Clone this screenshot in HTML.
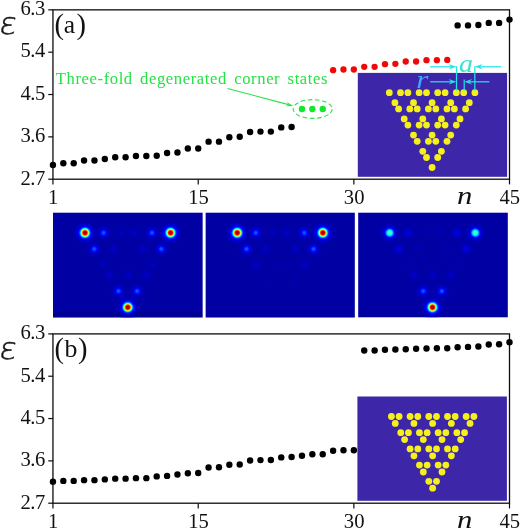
<!DOCTYPE html>
<html lang="en"><head><meta charset="utf-8"><title>Corner states spectrum</title>
<style>
html,body{margin:0;padding:0;background:#fff;}
body{width:520px;height:530px;overflow:hidden;font-family:"Liberation Serif", "DejaVu Serif", serif;}
svg{display:block;}
</style></head><body>
<svg width="520" height="530" viewBox="0 0 520 530" font-family='"Liberation Serif", "DejaVu Serif", serif' fill="#111"><defs><radialGradient id="g016"><stop offset="0.0000" stop-color="#0000af" stop-opacity="1.000"/><stop offset="0.0333" stop-color="#0000af" stop-opacity="1.000"/><stop offset="0.0667" stop-color="#0000ae" stop-opacity="1.000"/><stop offset="0.1000" stop-color="#0000ad" stop-opacity="1.000"/><stop offset="0.1333" stop-color="#0000ac" stop-opacity="1.000"/><stop offset="0.1667" stop-color="#0000ab" stop-opacity="1.000"/><stop offset="0.2000" stop-color="#0000aa" stop-opacity="1.000"/><stop offset="0.2333" stop-color="#0000a9" stop-opacity="1.000"/><stop offset="0.2667" stop-color="#0000a8" stop-opacity="1.000"/><stop offset="0.3000" stop-color="#0000a7" stop-opacity="1.000"/><stop offset="0.3333" stop-color="#0000a6" stop-opacity="1.000"/><stop offset="0.3667" stop-color="#0000a5" stop-opacity="1.000"/><stop offset="0.4000" stop-color="#0000a5" stop-opacity="1.000"/><stop offset="0.4333" stop-color="#0000a5" stop-opacity="1.000"/><stop offset="0.4667" stop-color="#0000a4" stop-opacity="1.000"/><stop offset="0.5000" stop-color="#0000a4" stop-opacity="1.000"/><stop offset="0.5333" stop-color="#0000a4" stop-opacity="1.000"/><stop offset="0.5667" stop-color="#0000a4" stop-opacity="0.963"/><stop offset="0.6000" stop-color="#0000a4" stop-opacity="0.889"/><stop offset="0.6333" stop-color="#0000a4" stop-opacity="0.815"/><stop offset="0.6667" stop-color="#0000a3" stop-opacity="0.741"/><stop offset="0.7000" stop-color="#0000a3" stop-opacity="0.667"/><stop offset="0.7333" stop-color="#0000a3" stop-opacity="0.593"/><stop offset="0.7667" stop-color="#0000a3" stop-opacity="0.519"/><stop offset="0.8000" stop-color="#0000a3" stop-opacity="0.444"/><stop offset="0.8333" stop-color="#0000a3" stop-opacity="0.370"/><stop offset="0.8667" stop-color="#0000a3" stop-opacity="0.296"/><stop offset="0.9000" stop-color="#0000a3" stop-opacity="0.222"/><stop offset="0.9333" stop-color="#0000a3" stop-opacity="0.148"/><stop offset="0.9667" stop-color="#0000a3" stop-opacity="0.074"/><stop offset="1.0000" stop-color="#0000a3" stop-opacity="0.000"/></radialGradient><radialGradient id="g050"><stop offset="0.0000" stop-color="#0000c8" stop-opacity="1.000"/><stop offset="0.0333" stop-color="#0000c7" stop-opacity="1.000"/><stop offset="0.0667" stop-color="#0000c6" stop-opacity="1.000"/><stop offset="0.1000" stop-color="#0000c3" stop-opacity="1.000"/><stop offset="0.1333" stop-color="#0000c0" stop-opacity="1.000"/><stop offset="0.1667" stop-color="#0000bd" stop-opacity="1.000"/><stop offset="0.2000" stop-color="#0000b9" stop-opacity="1.000"/><stop offset="0.2333" stop-color="#0000b5" stop-opacity="1.000"/><stop offset="0.2667" stop-color="#0000b2" stop-opacity="1.000"/><stop offset="0.3000" stop-color="#0000af" stop-opacity="1.000"/><stop offset="0.3333" stop-color="#0000ad" stop-opacity="1.000"/><stop offset="0.3667" stop-color="#0000ab" stop-opacity="1.000"/><stop offset="0.4000" stop-color="#0000a9" stop-opacity="1.000"/><stop offset="0.4333" stop-color="#0000a8" stop-opacity="1.000"/><stop offset="0.4667" stop-color="#0000a7" stop-opacity="1.000"/><stop offset="0.5000" stop-color="#0000a6" stop-opacity="1.000"/><stop offset="0.5333" stop-color="#0000a6" stop-opacity="1.000"/><stop offset="0.5667" stop-color="#0000a5" stop-opacity="0.963"/><stop offset="0.6000" stop-color="#0000a5" stop-opacity="0.889"/><stop offset="0.6333" stop-color="#0000a5" stop-opacity="0.815"/><stop offset="0.6667" stop-color="#0000a4" stop-opacity="0.741"/><stop offset="0.7000" stop-color="#0000a4" stop-opacity="0.667"/><stop offset="0.7333" stop-color="#0000a4" stop-opacity="0.593"/><stop offset="0.7667" stop-color="#0000a4" stop-opacity="0.519"/><stop offset="0.8000" stop-color="#0000a4" stop-opacity="0.444"/><stop offset="0.8333" stop-color="#0000a4" stop-opacity="0.370"/><stop offset="0.8667" stop-color="#0000a4" stop-opacity="0.296"/><stop offset="0.9000" stop-color="#0000a3" stop-opacity="0.222"/><stop offset="0.9333" stop-color="#0000a3" stop-opacity="0.148"/><stop offset="0.9667" stop-color="#0000a3" stop-opacity="0.074"/><stop offset="1.0000" stop-color="#0000a3" stop-opacity="0.000"/></radialGradient><radialGradient id="g220"><stop offset="0.0000" stop-color="#0061ff" stop-opacity="1.000"/><stop offset="0.0333" stop-color="#005eff" stop-opacity="1.000"/><stop offset="0.0667" stop-color="#0054ff" stop-opacity="1.000"/><stop offset="0.1000" stop-color="#0045ff" stop-opacity="1.000"/><stop offset="0.1333" stop-color="#0032ff" stop-opacity="1.000"/><stop offset="0.1667" stop-color="#001cff" stop-opacity="1.000"/><stop offset="0.2000" stop-color="#0006ff" stop-opacity="1.000"/><stop offset="0.2333" stop-color="#0000f3" stop-opacity="1.000"/><stop offset="0.2667" stop-color="#0000e5" stop-opacity="1.000"/><stop offset="0.3000" stop-color="#0000d8" stop-opacity="1.000"/><stop offset="0.3333" stop-color="#0000cd" stop-opacity="1.000"/><stop offset="0.3667" stop-color="#0000c5" stop-opacity="1.000"/><stop offset="0.4000" stop-color="#0000be" stop-opacity="1.000"/><stop offset="0.4333" stop-color="#0000b8" stop-opacity="1.000"/><stop offset="0.4667" stop-color="#0000b4" stop-opacity="1.000"/><stop offset="0.5000" stop-color="#0000b1" stop-opacity="1.000"/><stop offset="0.5333" stop-color="#0000af" stop-opacity="1.000"/><stop offset="0.5667" stop-color="#0000ad" stop-opacity="0.963"/><stop offset="0.6000" stop-color="#0000ab" stop-opacity="0.889"/><stop offset="0.6333" stop-color="#0000aa" stop-opacity="0.815"/><stop offset="0.6667" stop-color="#0000a9" stop-opacity="0.741"/><stop offset="0.7000" stop-color="#0000a8" stop-opacity="0.667"/><stop offset="0.7333" stop-color="#0000a8" stop-opacity="0.593"/><stop offset="0.7667" stop-color="#0000a7" stop-opacity="0.519"/><stop offset="0.8000" stop-color="#0000a6" stop-opacity="0.444"/><stop offset="0.8333" stop-color="#0000a6" stop-opacity="0.370"/><stop offset="0.8667" stop-color="#0000a5" stop-opacity="0.296"/><stop offset="0.9000" stop-color="#0000a5" stop-opacity="0.222"/><stop offset="0.9333" stop-color="#0000a5" stop-opacity="0.148"/><stop offset="0.9667" stop-color="#0000a4" stop-opacity="0.074"/><stop offset="1.0000" stop-color="#0000a4" stop-opacity="0.000"/></radialGradient><radialGradient id="g1000"><stop offset="0.0000" stop-color="#9e0000" stop-opacity="1.000"/><stop offset="0.0333" stop-color="#9f0000" stop-opacity="1.000"/><stop offset="0.0667" stop-color="#a60000" stop-opacity="1.000"/><stop offset="0.1000" stop-color="#b90000" stop-opacity="1.000"/><stop offset="0.1333" stop-color="#dd0000" stop-opacity="1.000"/><stop offset="0.1667" stop-color="#ff1600" stop-opacity="1.000"/><stop offset="0.2000" stop-color="#ff6300" stop-opacity="1.000"/><stop offset="0.2333" stop-color="#ffc100" stop-opacity="1.000"/><stop offset="0.2667" stop-color="#d3ff2c" stop-opacity="1.000"/><stop offset="0.3000" stop-color="#67ff98" stop-opacity="1.000"/><stop offset="0.3333" stop-color="#02fffd" stop-opacity="1.000"/><stop offset="0.3667" stop-color="#00abff" stop-opacity="1.000"/><stop offset="0.4000" stop-color="#0066ff" stop-opacity="1.000"/><stop offset="0.4333" stop-color="#0034ff" stop-opacity="1.000"/><stop offset="0.4667" stop-color="#0012ff" stop-opacity="1.000"/><stop offset="0.5000" stop-color="#0000fb" stop-opacity="1.000"/><stop offset="0.5333" stop-color="#0000ef" stop-opacity="1.000"/><stop offset="0.5667" stop-color="#0000e6" stop-opacity="0.963"/><stop offset="0.6000" stop-color="#0000df" stop-opacity="0.889"/><stop offset="0.6333" stop-color="#0000d8" stop-opacity="0.815"/><stop offset="0.6667" stop-color="#0000d2" stop-opacity="0.741"/><stop offset="0.7000" stop-color="#0000cc" stop-opacity="0.667"/><stop offset="0.7333" stop-color="#0000c7" stop-opacity="0.593"/><stop offset="0.7667" stop-color="#0000c2" stop-opacity="0.519"/><stop offset="0.8000" stop-color="#0000be" stop-opacity="0.444"/><stop offset="0.8333" stop-color="#0000ba" stop-opacity="0.370"/><stop offset="0.8667" stop-color="#0000b7" stop-opacity="0.296"/><stop offset="0.9000" stop-color="#0000b4" stop-opacity="0.222"/><stop offset="0.9333" stop-color="#0000b1" stop-opacity="0.148"/><stop offset="0.9667" stop-color="#0000af" stop-opacity="0.074"/><stop offset="1.0000" stop-color="#0000ad" stop-opacity="0.000"/></radialGradient><radialGradient id="g022"><stop offset="0.0000" stop-color="#0000b3" stop-opacity="1.000"/><stop offset="0.0333" stop-color="#0000b3" stop-opacity="1.000"/><stop offset="0.0667" stop-color="#0000b2" stop-opacity="1.000"/><stop offset="0.1000" stop-color="#0000b1" stop-opacity="1.000"/><stop offset="0.1333" stop-color="#0000b0" stop-opacity="1.000"/><stop offset="0.1667" stop-color="#0000ae" stop-opacity="1.000"/><stop offset="0.2000" stop-color="#0000ad" stop-opacity="1.000"/><stop offset="0.2333" stop-color="#0000ab" stop-opacity="1.000"/><stop offset="0.2667" stop-color="#0000aa" stop-opacity="1.000"/><stop offset="0.3000" stop-color="#0000a8" stop-opacity="1.000"/><stop offset="0.3333" stop-color="#0000a7" stop-opacity="1.000"/><stop offset="0.3667" stop-color="#0000a6" stop-opacity="1.000"/><stop offset="0.4000" stop-color="#0000a6" stop-opacity="1.000"/><stop offset="0.4333" stop-color="#0000a5" stop-opacity="1.000"/><stop offset="0.4667" stop-color="#0000a5" stop-opacity="1.000"/><stop offset="0.5000" stop-color="#0000a4" stop-opacity="1.000"/><stop offset="0.5333" stop-color="#0000a4" stop-opacity="1.000"/><stop offset="0.5667" stop-color="#0000a4" stop-opacity="0.963"/><stop offset="0.6000" stop-color="#0000a4" stop-opacity="0.889"/><stop offset="0.6333" stop-color="#0000a4" stop-opacity="0.815"/><stop offset="0.6667" stop-color="#0000a4" stop-opacity="0.741"/><stop offset="0.7000" stop-color="#0000a4" stop-opacity="0.667"/><stop offset="0.7333" stop-color="#0000a3" stop-opacity="0.593"/><stop offset="0.7667" stop-color="#0000a3" stop-opacity="0.519"/><stop offset="0.8000" stop-color="#0000a3" stop-opacity="0.444"/><stop offset="0.8333" stop-color="#0000a3" stop-opacity="0.370"/><stop offset="0.8667" stop-color="#0000a3" stop-opacity="0.296"/><stop offset="0.9000" stop-color="#0000a3" stop-opacity="0.222"/><stop offset="0.9333" stop-color="#0000a3" stop-opacity="0.148"/><stop offset="0.9667" stop-color="#0000a3" stop-opacity="0.074"/><stop offset="1.0000" stop-color="#0000a3" stop-opacity="0.000"/></radialGradient><radialGradient id="g097"><stop offset="0.0000" stop-color="#0000ea" stop-opacity="1.000"/><stop offset="0.0333" stop-color="#0000e9" stop-opacity="1.000"/><stop offset="0.0667" stop-color="#0000e6" stop-opacity="1.000"/><stop offset="0.1000" stop-color="#0000e1" stop-opacity="1.000"/><stop offset="0.1333" stop-color="#0000db" stop-opacity="1.000"/><stop offset="0.1667" stop-color="#0000d4" stop-opacity="1.000"/><stop offset="0.2000" stop-color="#0000cd" stop-opacity="1.000"/><stop offset="0.2333" stop-color="#0000c6" stop-opacity="1.000"/><stop offset="0.2667" stop-color="#0000c0" stop-opacity="1.000"/><stop offset="0.3000" stop-color="#0000ba" stop-opacity="1.000"/><stop offset="0.3333" stop-color="#0000b6" stop-opacity="1.000"/><stop offset="0.3667" stop-color="#0000b2" stop-opacity="1.000"/><stop offset="0.4000" stop-color="#0000af" stop-opacity="1.000"/><stop offset="0.4333" stop-color="#0000ac" stop-opacity="1.000"/><stop offset="0.4667" stop-color="#0000ab" stop-opacity="1.000"/><stop offset="0.5000" stop-color="#0000a9" stop-opacity="1.000"/><stop offset="0.5333" stop-color="#0000a8" stop-opacity="1.000"/><stop offset="0.5667" stop-color="#0000a7" stop-opacity="0.963"/><stop offset="0.6000" stop-color="#0000a7" stop-opacity="0.889"/><stop offset="0.6333" stop-color="#0000a6" stop-opacity="0.815"/><stop offset="0.6667" stop-color="#0000a6" stop-opacity="0.741"/><stop offset="0.7000" stop-color="#0000a5" stop-opacity="0.667"/><stop offset="0.7333" stop-color="#0000a5" stop-opacity="0.593"/><stop offset="0.7667" stop-color="#0000a5" stop-opacity="0.519"/><stop offset="0.8000" stop-color="#0000a4" stop-opacity="0.444"/><stop offset="0.8333" stop-color="#0000a4" stop-opacity="0.370"/><stop offset="0.8667" stop-color="#0000a4" stop-opacity="0.296"/><stop offset="0.9000" stop-color="#0000a4" stop-opacity="0.222"/><stop offset="0.9333" stop-color="#0000a4" stop-opacity="0.148"/><stop offset="0.9667" stop-color="#0000a4" stop-opacity="0.074"/><stop offset="1.0000" stop-color="#0000a3" stop-opacity="0.000"/></radialGradient><radialGradient id="g440"><stop offset="0.0000" stop-color="#42ffbd" stop-opacity="1.000"/><stop offset="0.0333" stop-color="#42ffbd" stop-opacity="1.000"/><stop offset="0.0667" stop-color="#3fffc0" stop-opacity="1.000"/><stop offset="0.1000" stop-color="#36ffc9" stop-opacity="1.000"/><stop offset="0.1333" stop-color="#26ffd9" stop-opacity="1.000"/><stop offset="0.1667" stop-color="#0cfff3" stop-opacity="1.000"/><stop offset="0.2000" stop-color="#00e8ff" stop-opacity="1.000"/><stop offset="0.2333" stop-color="#00bdff" stop-opacity="1.000"/><stop offset="0.2667" stop-color="#008dff" stop-opacity="1.000"/><stop offset="0.3000" stop-color="#005bff" stop-opacity="1.000"/><stop offset="0.3333" stop-color="#002dff" stop-opacity="1.000"/><stop offset="0.3667" stop-color="#0006ff" stop-opacity="1.000"/><stop offset="0.4000" stop-color="#0000ed" stop-opacity="1.000"/><stop offset="0.4333" stop-color="#0000dd" stop-opacity="1.000"/><stop offset="0.4667" stop-color="#0000d1" stop-opacity="1.000"/><stop offset="0.5000" stop-color="#0000ca" stop-opacity="1.000"/><stop offset="0.5333" stop-color="#0000c4" stop-opacity="1.000"/><stop offset="0.5667" stop-color="#0000c1" stop-opacity="0.963"/><stop offset="0.6000" stop-color="#0000bd" stop-opacity="0.889"/><stop offset="0.6333" stop-color="#0000ba" stop-opacity="0.815"/><stop offset="0.6667" stop-color="#0000b8" stop-opacity="0.741"/><stop offset="0.7000" stop-color="#0000b5" stop-opacity="0.667"/><stop offset="0.7333" stop-color="#0000b3" stop-opacity="0.593"/><stop offset="0.7667" stop-color="#0000b1" stop-opacity="0.519"/><stop offset="0.8000" stop-color="#0000af" stop-opacity="0.444"/><stop offset="0.8333" stop-color="#0000ad" stop-opacity="0.370"/><stop offset="0.8667" stop-color="#0000ac" stop-opacity="0.296"/><stop offset="0.9000" stop-color="#0000aa" stop-opacity="0.222"/><stop offset="0.9333" stop-color="#0000a9" stop-opacity="0.148"/><stop offset="0.9667" stop-color="#0000a8" stop-opacity="0.074"/><stop offset="1.0000" stop-color="#0000a7" stop-opacity="0.000"/></radialGradient></defs>
<rect x="52.95" y="9.85" width="456.55" height="169.35" fill="none" stroke="#0c0c0c" stroke-width="1.3"/>
<line x1="48.25" y1="9.85" x2="52.95" y2="9.85" stroke="#0c0c0c" stroke-width="1.2"/>
<text x="45.20" y="15.15" font-size="20.6" text-anchor="end" textLength="24.8" lengthAdjust="spacing">6.3</text>
<line x1="48.25" y1="52.19" x2="52.95" y2="52.19" stroke="#0c0c0c" stroke-width="1.2"/>
<text x="45.20" y="57.49" font-size="20.6" text-anchor="end" textLength="24.8" lengthAdjust="spacing">5.4</text>
<line x1="48.25" y1="94.52" x2="52.95" y2="94.52" stroke="#0c0c0c" stroke-width="1.2"/>
<text x="45.20" y="99.82" font-size="20.6" text-anchor="end" textLength="24.8" lengthAdjust="spacing">4.5</text>
<line x1="48.25" y1="136.86" x2="52.95" y2="136.86" stroke="#0c0c0c" stroke-width="1.2"/>
<text x="45.20" y="142.16" font-size="20.6" text-anchor="end" textLength="24.8" lengthAdjust="spacing">3.6</text>
<line x1="48.25" y1="179.20" x2="52.95" y2="179.20" stroke="#0c0c0c" stroke-width="1.2"/>
<text x="45.20" y="184.50" font-size="20.6" text-anchor="end" textLength="24.8" lengthAdjust="spacing">2.7</text>
<line x1="52.95" y1="179.20" x2="52.95" y2="184.40" stroke="#0c0c0c" stroke-width="1.2"/>
<text x="53.25" y="204.30" font-size="20.6" text-anchor="middle">1</text>
<line x1="198.22" y1="179.20" x2="198.22" y2="184.40" stroke="#0c0c0c" stroke-width="1.2"/>
<text x="198.52" y="204.30" font-size="20.6" text-anchor="middle">15</text>
<line x1="353.86" y1="179.20" x2="353.86" y2="184.40" stroke="#0c0c0c" stroke-width="1.2"/>
<text x="354.16" y="204.30" font-size="20.6" text-anchor="middle">30</text>
<line x1="509.50" y1="179.20" x2="509.50" y2="184.40" stroke="#0c0c0c" stroke-width="1.2"/>
<text x="509.80" y="204.30" font-size="20.6" text-anchor="middle">45</text>
<text transform="translate(464.60,204.10) scale(1.27,1)" font-size="24.2" font-style="italic" text-anchor="middle">n</text>
<text transform="translate(-1.90,34.45) skewX(-8) scale(1.08,1)" font-size="30.4" font-family='"DejaVu Sans Light", "DejaVu Sans", "Liberation Sans", sans-serif' font-weight="200" fill="#151515" stroke="#151515" stroke-width="0.45">ε</text>
<rect x="52.95" y="333.90" width="456.55" height="169.30" fill="none" stroke="#0c0c0c" stroke-width="1.3"/>
<line x1="48.25" y1="333.90" x2="52.95" y2="333.90" stroke="#0c0c0c" stroke-width="1.2"/>
<text x="45.20" y="339.20" font-size="20.6" text-anchor="end" textLength="24.8" lengthAdjust="spacing">6.3</text>
<line x1="48.25" y1="376.22" x2="52.95" y2="376.22" stroke="#0c0c0c" stroke-width="1.2"/>
<text x="45.20" y="381.52" font-size="20.6" text-anchor="end" textLength="24.8" lengthAdjust="spacing">5.4</text>
<line x1="48.25" y1="418.55" x2="52.95" y2="418.55" stroke="#0c0c0c" stroke-width="1.2"/>
<text x="45.20" y="423.85" font-size="20.6" text-anchor="end" textLength="24.8" lengthAdjust="spacing">4.5</text>
<line x1="48.25" y1="460.88" x2="52.95" y2="460.88" stroke="#0c0c0c" stroke-width="1.2"/>
<text x="45.20" y="466.18" font-size="20.6" text-anchor="end" textLength="24.8" lengthAdjust="spacing">3.6</text>
<line x1="48.25" y1="503.20" x2="52.95" y2="503.20" stroke="#0c0c0c" stroke-width="1.2"/>
<text x="45.20" y="508.50" font-size="20.6" text-anchor="end" textLength="24.8" lengthAdjust="spacing">2.7</text>
<line x1="52.95" y1="503.20" x2="52.95" y2="508.40" stroke="#0c0c0c" stroke-width="1.2"/>
<text x="53.25" y="528.30" font-size="20.6" text-anchor="middle">1</text>
<line x1="198.22" y1="503.20" x2="198.22" y2="508.40" stroke="#0c0c0c" stroke-width="1.2"/>
<text x="198.52" y="528.30" font-size="20.6" text-anchor="middle">15</text>
<line x1="353.86" y1="503.20" x2="353.86" y2="508.40" stroke="#0c0c0c" stroke-width="1.2"/>
<text x="354.16" y="528.30" font-size="20.6" text-anchor="middle">30</text>
<line x1="509.50" y1="503.20" x2="509.50" y2="508.40" stroke="#0c0c0c" stroke-width="1.2"/>
<text x="509.80" y="528.30" font-size="20.6" text-anchor="middle">45</text>
<text transform="translate(464.60,528.10) scale(1.27,1)" font-size="24.2" font-style="italic" text-anchor="middle">n</text>
<text transform="translate(-1.90,358.50) skewX(-8) scale(1.08,1)" font-size="30.4" font-family='"DejaVu Sans Light", "DejaVu Sans", "Liberation Sans", sans-serif' font-weight="200" fill="#151515" stroke="#151515" stroke-width="0.45">ε</text>
<text y="32.6" font-size="25.6"><tspan x="54.4" dy="0.9" font-size="28.5">(</tspan><tspan x="63.7" dy="-0.9">a</tspan><tspan x="76.6" dy="0.9" font-size="28.5">)</tspan></text>
<text y="357.0" font-size="25.8"><tspan x="54.4" dy="0.9" font-size="28.5">(</tspan><tspan x="64.4" dy="-0.9">b</tspan><tspan x="78.1" dy="0.9" font-size="28.5">)</tspan></text>
<rect x="357.80" y="72.90" width="149.30" height="103.90" fill="#3e26a8"/>
<circle cx="389.30" cy="92.70" r="3.40" fill="#f5f01c"/>
<circle cx="400.50" cy="92.70" r="3.40" fill="#f5f01c"/>
<circle cx="394.90" cy="102.70" r="3.40" fill="#f5f01c"/>
<circle cx="407.90" cy="92.70" r="3.40" fill="#f5f01c"/>
<circle cx="419.10" cy="92.70" r="3.40" fill="#f5f01c"/>
<circle cx="413.50" cy="102.70" r="3.40" fill="#f5f01c"/>
<circle cx="426.50" cy="92.70" r="3.40" fill="#f5f01c"/>
<circle cx="437.70" cy="92.70" r="3.40" fill="#f5f01c"/>
<circle cx="432.10" cy="102.70" r="3.40" fill="#f5f01c"/>
<circle cx="445.10" cy="92.70" r="3.40" fill="#f5f01c"/>
<circle cx="456.30" cy="92.70" r="3.40" fill="#f5f01c"/>
<circle cx="450.70" cy="102.70" r="3.40" fill="#f5f01c"/>
<circle cx="463.70" cy="92.70" r="3.40" fill="#f5f01c"/>
<circle cx="474.90" cy="92.70" r="3.40" fill="#f5f01c"/>
<circle cx="469.30" cy="102.70" r="3.40" fill="#f5f01c"/>
<circle cx="398.60" cy="108.90" r="3.40" fill="#f5f01c"/>
<circle cx="409.80" cy="108.90" r="3.40" fill="#f5f01c"/>
<circle cx="404.20" cy="118.90" r="3.40" fill="#f5f01c"/>
<circle cx="417.20" cy="108.90" r="3.40" fill="#f5f01c"/>
<circle cx="428.40" cy="108.90" r="3.40" fill="#f5f01c"/>
<circle cx="422.80" cy="118.90" r="3.40" fill="#f5f01c"/>
<circle cx="435.80" cy="108.90" r="3.40" fill="#f5f01c"/>
<circle cx="447.00" cy="108.90" r="3.40" fill="#f5f01c"/>
<circle cx="441.40" cy="118.90" r="3.40" fill="#f5f01c"/>
<circle cx="454.40" cy="108.90" r="3.40" fill="#f5f01c"/>
<circle cx="465.60" cy="108.90" r="3.40" fill="#f5f01c"/>
<circle cx="460.00" cy="118.90" r="3.40" fill="#f5f01c"/>
<circle cx="407.90" cy="125.10" r="3.40" fill="#f5f01c"/>
<circle cx="419.10" cy="125.10" r="3.40" fill="#f5f01c"/>
<circle cx="413.50" cy="135.10" r="3.40" fill="#f5f01c"/>
<circle cx="426.50" cy="125.10" r="3.40" fill="#f5f01c"/>
<circle cx="437.70" cy="125.10" r="3.40" fill="#f5f01c"/>
<circle cx="432.10" cy="135.10" r="3.40" fill="#f5f01c"/>
<circle cx="445.10" cy="125.10" r="3.40" fill="#f5f01c"/>
<circle cx="456.30" cy="125.10" r="3.40" fill="#f5f01c"/>
<circle cx="450.70" cy="135.10" r="3.40" fill="#f5f01c"/>
<circle cx="417.20" cy="141.30" r="3.40" fill="#f5f01c"/>
<circle cx="428.40" cy="141.30" r="3.40" fill="#f5f01c"/>
<circle cx="422.80" cy="151.30" r="3.40" fill="#f5f01c"/>
<circle cx="435.80" cy="141.30" r="3.40" fill="#f5f01c"/>
<circle cx="447.00" cy="141.30" r="3.40" fill="#f5f01c"/>
<circle cx="441.40" cy="151.30" r="3.40" fill="#f5f01c"/>
<circle cx="426.50" cy="157.50" r="3.40" fill="#f5f01c"/>
<circle cx="437.70" cy="157.50" r="3.40" fill="#f5f01c"/>
<circle cx="432.10" cy="167.50" r="3.40" fill="#f5f01c"/>
<rect x="357.40" y="396.50" width="149.50" height="104.30" fill="#3e26a8"/>
<circle cx="391.40" cy="416.50" r="3.40" fill="#f5f01c"/>
<circle cx="399.10" cy="416.50" r="3.40" fill="#f5f01c"/>
<circle cx="395.25" cy="423.40" r="3.40" fill="#f5f01c"/>
<circle cx="410.10" cy="416.50" r="3.40" fill="#f5f01c"/>
<circle cx="417.80" cy="416.50" r="3.40" fill="#f5f01c"/>
<circle cx="413.95" cy="423.40" r="3.40" fill="#f5f01c"/>
<circle cx="428.80" cy="416.50" r="3.40" fill="#f5f01c"/>
<circle cx="436.50" cy="416.50" r="3.40" fill="#f5f01c"/>
<circle cx="432.65" cy="423.40" r="3.40" fill="#f5f01c"/>
<circle cx="447.50" cy="416.50" r="3.40" fill="#f5f01c"/>
<circle cx="455.20" cy="416.50" r="3.40" fill="#f5f01c"/>
<circle cx="451.35" cy="423.40" r="3.40" fill="#f5f01c"/>
<circle cx="466.20" cy="416.50" r="3.40" fill="#f5f01c"/>
<circle cx="473.90" cy="416.50" r="3.40" fill="#f5f01c"/>
<circle cx="470.05" cy="423.40" r="3.40" fill="#f5f01c"/>
<circle cx="400.75" cy="432.70" r="3.40" fill="#f5f01c"/>
<circle cx="408.45" cy="432.70" r="3.40" fill="#f5f01c"/>
<circle cx="404.60" cy="439.60" r="3.40" fill="#f5f01c"/>
<circle cx="419.45" cy="432.70" r="3.40" fill="#f5f01c"/>
<circle cx="427.15" cy="432.70" r="3.40" fill="#f5f01c"/>
<circle cx="423.30" cy="439.60" r="3.40" fill="#f5f01c"/>
<circle cx="438.15" cy="432.70" r="3.40" fill="#f5f01c"/>
<circle cx="445.85" cy="432.70" r="3.40" fill="#f5f01c"/>
<circle cx="442.00" cy="439.60" r="3.40" fill="#f5f01c"/>
<circle cx="456.85" cy="432.70" r="3.40" fill="#f5f01c"/>
<circle cx="464.55" cy="432.70" r="3.40" fill="#f5f01c"/>
<circle cx="460.70" cy="439.60" r="3.40" fill="#f5f01c"/>
<circle cx="410.10" cy="448.90" r="3.40" fill="#f5f01c"/>
<circle cx="417.80" cy="448.90" r="3.40" fill="#f5f01c"/>
<circle cx="413.95" cy="455.80" r="3.40" fill="#f5f01c"/>
<circle cx="428.80" cy="448.90" r="3.40" fill="#f5f01c"/>
<circle cx="436.50" cy="448.90" r="3.40" fill="#f5f01c"/>
<circle cx="432.65" cy="455.80" r="3.40" fill="#f5f01c"/>
<circle cx="447.50" cy="448.90" r="3.40" fill="#f5f01c"/>
<circle cx="455.20" cy="448.90" r="3.40" fill="#f5f01c"/>
<circle cx="451.35" cy="455.80" r="3.40" fill="#f5f01c"/>
<circle cx="419.45" cy="465.10" r="3.40" fill="#f5f01c"/>
<circle cx="427.15" cy="465.10" r="3.40" fill="#f5f01c"/>
<circle cx="423.30" cy="472.00" r="3.40" fill="#f5f01c"/>
<circle cx="438.15" cy="465.10" r="3.40" fill="#f5f01c"/>
<circle cx="445.85" cy="465.10" r="3.40" fill="#f5f01c"/>
<circle cx="442.00" cy="472.00" r="3.40" fill="#f5f01c"/>
<circle cx="428.80" cy="481.30" r="3.40" fill="#f5f01c"/>
<circle cx="436.50" cy="481.30" r="3.40" fill="#f5f01c"/>
<circle cx="432.65" cy="488.20" r="3.40" fill="#f5f01c"/>
<circle cx="52.95" cy="165.00" r="3.20" fill="#000"/>
<circle cx="63.33" cy="163.25" r="3.20" fill="#000"/>
<circle cx="73.70" cy="163.25" r="3.20" fill="#000"/>
<circle cx="84.08" cy="160.55" r="3.20" fill="#000"/>
<circle cx="94.45" cy="160.50" r="3.20" fill="#000"/>
<circle cx="104.83" cy="159.00" r="3.20" fill="#000"/>
<circle cx="115.21" cy="157.25" r="3.20" fill="#000"/>
<circle cx="125.58" cy="157.25" r="3.20" fill="#000"/>
<circle cx="135.96" cy="156.00" r="3.20" fill="#000"/>
<circle cx="146.34" cy="156.00" r="3.20" fill="#000"/>
<circle cx="156.71" cy="155.75" r="3.20" fill="#000"/>
<circle cx="167.09" cy="153.00" r="3.20" fill="#000"/>
<circle cx="177.46" cy="152.50" r="3.20" fill="#000"/>
<circle cx="187.84" cy="148.50" r="3.20" fill="#000"/>
<circle cx="198.22" cy="148.50" r="3.20" fill="#000"/>
<circle cx="208.59" cy="141.65" r="3.20" fill="#000"/>
<circle cx="218.97" cy="141.65" r="3.20" fill="#000"/>
<circle cx="229.34" cy="137.25" r="3.20" fill="#000"/>
<circle cx="239.72" cy="136.75" r="3.20" fill="#000"/>
<circle cx="250.10" cy="132.00" r="3.20" fill="#000"/>
<circle cx="260.47" cy="131.60" r="3.20" fill="#000"/>
<circle cx="270.85" cy="131.60" r="3.20" fill="#000"/>
<circle cx="281.23" cy="127.40" r="3.20" fill="#000"/>
<circle cx="291.60" cy="127.00" r="3.20" fill="#000"/>
<circle cx="301.98" cy="109.00" r="3.20" fill="#14e82e"/>
<circle cx="312.35" cy="109.00" r="3.20" fill="#14e82e"/>
<circle cx="322.73" cy="109.00" r="3.20" fill="#14e82e"/>
<circle cx="333.11" cy="70.20" r="3.15" fill="#f00808"/>
<circle cx="343.48" cy="69.50" r="3.15" fill="#f00808"/>
<circle cx="353.86" cy="69.50" r="3.15" fill="#f00808"/>
<circle cx="364.23" cy="66.80" r="3.15" fill="#f00808"/>
<circle cx="374.61" cy="66.80" r="3.15" fill="#f00808"/>
<circle cx="384.99" cy="64.20" r="3.15" fill="#f00808"/>
<circle cx="395.36" cy="63.80" r="3.15" fill="#f00808"/>
<circle cx="405.74" cy="61.50" r="3.15" fill="#f00808"/>
<circle cx="416.11" cy="61.50" r="3.15" fill="#f00808"/>
<circle cx="426.49" cy="60.20" r="3.15" fill="#f00808"/>
<circle cx="436.87" cy="60.20" r="3.15" fill="#f00808"/>
<circle cx="447.24" cy="59.90" r="3.15" fill="#f00808"/>
<circle cx="457.62" cy="25.40" r="3.20" fill="#000"/>
<circle cx="468.00" cy="25.40" r="3.20" fill="#000"/>
<circle cx="478.37" cy="25.00" r="3.20" fill="#000"/>
<circle cx="488.75" cy="22.90" r="3.20" fill="#000"/>
<circle cx="499.12" cy="22.90" r="3.20" fill="#000"/>
<circle cx="509.50" cy="19.60" r="3.20" fill="#000"/>
<circle cx="52.95" cy="481.65" r="3.2" fill="#000"/>
<circle cx="63.33" cy="480.90" r="3.2" fill="#000"/>
<circle cx="73.70" cy="480.90" r="3.2" fill="#000"/>
<circle cx="84.08" cy="480.15" r="3.2" fill="#000"/>
<circle cx="94.45" cy="480.15" r="3.2" fill="#000"/>
<circle cx="104.83" cy="479.40" r="3.2" fill="#000"/>
<circle cx="115.21" cy="478.65" r="3.2" fill="#000"/>
<circle cx="125.58" cy="478.65" r="3.2" fill="#000"/>
<circle cx="135.96" cy="478.15" r="3.2" fill="#000"/>
<circle cx="146.34" cy="478.15" r="3.2" fill="#000"/>
<circle cx="156.71" cy="476.40" r="3.2" fill="#000"/>
<circle cx="167.09" cy="475.90" r="3.2" fill="#000"/>
<circle cx="177.46" cy="474.50" r="3.2" fill="#000"/>
<circle cx="187.84" cy="473.25" r="3.2" fill="#000"/>
<circle cx="198.22" cy="473.00" r="3.2" fill="#000"/>
<circle cx="208.59" cy="467.50" r="3.2" fill="#000"/>
<circle cx="218.97" cy="467.25" r="3.2" fill="#000"/>
<circle cx="229.34" cy="464.75" r="3.2" fill="#000"/>
<circle cx="239.72" cy="464.50" r="3.2" fill="#000"/>
<circle cx="250.10" cy="460.50" r="3.2" fill="#000"/>
<circle cx="260.47" cy="460.10" r="3.2" fill="#000"/>
<circle cx="270.85" cy="460.00" r="3.2" fill="#000"/>
<circle cx="281.23" cy="457.40" r="3.2" fill="#000"/>
<circle cx="291.60" cy="457.00" r="3.2" fill="#000"/>
<circle cx="301.98" cy="455.75" r="3.2" fill="#000"/>
<circle cx="312.35" cy="454.25" r="3.2" fill="#000"/>
<circle cx="322.73" cy="454.25" r="3.2" fill="#000"/>
<circle cx="333.11" cy="450.75" r="3.2" fill="#000"/>
<circle cx="343.48" cy="450.25" r="3.2" fill="#000"/>
<circle cx="353.86" cy="450.25" r="3.2" fill="#000"/>
<circle cx="364.23" cy="350.50" r="3.2" fill="#000"/>
<circle cx="374.61" cy="350.50" r="3.2" fill="#000"/>
<circle cx="384.99" cy="349.80" r="3.2" fill="#000"/>
<circle cx="395.36" cy="349.50" r="3.2" fill="#000"/>
<circle cx="405.74" cy="349.20" r="3.2" fill="#000"/>
<circle cx="416.11" cy="348.80" r="3.2" fill="#000"/>
<circle cx="426.49" cy="348.50" r="3.2" fill="#000"/>
<circle cx="436.87" cy="348.20" r="3.2" fill="#000"/>
<circle cx="447.24" cy="348.20" r="3.2" fill="#000"/>
<circle cx="457.62" cy="347.20" r="3.2" fill="#000"/>
<circle cx="468.00" cy="346.90" r="3.2" fill="#000"/>
<circle cx="478.37" cy="346.50" r="3.2" fill="#000"/>
<circle cx="488.75" cy="344.50" r="3.2" fill="#000"/>
<circle cx="499.12" cy="344.30" r="3.2" fill="#000"/>
<circle cx="509.50" cy="342.30" r="3.2" fill="#000"/>
<text x="55.8" y="83.6" font-size="16.6" word-spacing="2.6" fill="#24e343" textLength="271.7" lengthAdjust="spacing">Three-fold degenerated corner states</text>
<ellipse cx="312.7" cy="109.0" rx="19.5" ry="9.4" fill="none" stroke="#24e343" stroke-width="1.05" stroke-dasharray="4.6 2.6"/>
<line x1="227.5" y1="88.5" x2="288.5" y2="104.6" stroke="#24e343" stroke-width="1.15"/>
<path d="M293.20 105.90 L286.80 101.93 L288.68 104.70 L285.68 106.19 Z" fill="#24e343"/>
<line x1="456.50" y1="66.20" x2="456.50" y2="90.5" stroke="#1fe4e8" stroke-width="1.2"/>
<line x1="474.80" y1="66.20" x2="474.80" y2="90.5" stroke="#1fe4e8" stroke-width="1.2"/>
<line x1="464.20" y1="79.40" x2="464.20" y2="90.5" stroke="#1fe4e8" stroke-width="1.2"/>
<line x1="430.20" y1="66.80" x2="452.40" y2="66.80" stroke="#1fe4e8" stroke-width="1.25"/>
<path d="M456.40 66.80 L448.60 64.00 L451.33 66.80 L448.60 69.60 Z" fill="#1fe4e8"/>
<line x1="501.20" y1="66.80" x2="478.80" y2="66.80" stroke="#1fe4e8" stroke-width="1.25"/>
<path d="M474.80 66.80 L482.60 69.60 L479.87 66.80 L482.60 64.00 Z" fill="#1fe4e8"/>
<line x1="430.20" y1="81.80" x2="452.40" y2="81.80" stroke="#1fe4e8" stroke-width="1.25"/>
<path d="M456.40 81.80 L448.60 79.00 L451.33 81.80 L448.60 84.60 Z" fill="#1fe4e8"/>
<line x1="489.40" y1="81.80" x2="468.30" y2="81.80" stroke="#1fe4e8" stroke-width="1.25"/>
<path d="M464.30 81.80 L472.10 84.60 L469.37 81.80 L472.10 79.00 Z" fill="#1fe4e8"/>
<text transform="translate(459.0,71.6) scale(1.16,1)" font-size="24.2" font-style="italic" fill="#3fe0d0">a</text>
<text transform="translate(416.3,87.9) scale(1.22,1)" font-size="25.5" font-style="italic" fill="#3aa6ff">r</text>
<clipPath id="cp53"><rect x="53.00" y="212.40" width="149.80" height="105.30"/></clipPath>
<g clip-path="url(#cp53)">
<rect x="53.00" y="212.40" width="149.80" height="105.30" fill="#0000a3"/>
<circle cx="114.80" cy="232.80" r="13.00" fill="url(#g016)"/>
<circle cx="140.80" cy="232.80" r="13.00" fill="url(#g016)"/>
<circle cx="99.90" cy="258.70" r="13.00" fill="url(#g016)"/>
<circle cx="124.10" cy="249.00" r="13.00" fill="url(#g016)"/>
<circle cx="118.50" cy="258.70" r="13.00" fill="url(#g016)"/>
<circle cx="131.50" cy="249.00" r="13.00" fill="url(#g016)"/>
<circle cx="137.10" cy="258.70" r="13.00" fill="url(#g016)"/>
<circle cx="155.70" cy="258.70" r="13.00" fill="url(#g016)"/>
<circle cx="122.20" cy="265.20" r="13.00" fill="url(#g016)"/>
<circle cx="133.40" cy="265.20" r="13.00" fill="url(#g016)"/>
<circle cx="112.90" cy="281.40" r="13.00" fill="url(#g016)"/>
<circle cx="142.70" cy="281.40" r="13.00" fill="url(#g016)"/>
<circle cx="122.20" cy="232.80" r="13.00" fill="url(#g050)"/>
<circle cx="133.40" cy="232.80" r="13.00" fill="url(#g050)"/>
<circle cx="112.90" cy="249.00" r="13.00" fill="url(#g050)"/>
<circle cx="142.70" cy="249.00" r="13.00" fill="url(#g050)"/>
<circle cx="103.60" cy="265.20" r="13.00" fill="url(#g050)"/>
<circle cx="109.20" cy="274.90" r="13.00" fill="url(#g050)"/>
<circle cx="127.80" cy="274.90" r="13.00" fill="url(#g050)"/>
<circle cx="152.00" cy="265.20" r="13.00" fill="url(#g050)"/>
<circle cx="146.40" cy="274.90" r="13.00" fill="url(#g050)"/>
<circle cx="103.60" cy="232.80" r="13.00" fill="url(#g220)"/>
<circle cx="152.00" cy="232.80" r="13.00" fill="url(#g220)"/>
<circle cx="94.30" cy="249.00" r="13.00" fill="url(#g220)"/>
<circle cx="161.30" cy="249.00" r="13.00" fill="url(#g220)"/>
<circle cx="118.50" cy="291.10" r="13.00" fill="url(#g220)"/>
<circle cx="137.10" cy="291.10" r="13.00" fill="url(#g220)"/>
<circle cx="85.00" cy="232.80" r="13.00" fill="url(#g1000)"/>
<circle cx="170.60" cy="232.80" r="13.00" fill="url(#g1000)"/>
<circle cx="127.80" cy="307.30" r="13.00" fill="url(#g1000)"/>
</g>
<rect x="53" y="311" width="149.8" height="6.7" fill="#000" fill-opacity="0.07"/>
<clipPath id="cp205"><rect x="205.40" y="212.40" width="149.50" height="105.30"/></clipPath>
<g clip-path="url(#cp205)">
<rect x="205.40" y="212.40" width="149.50" height="105.30" fill="#0000a3"/>
<circle cx="267.05" cy="232.80" r="13.00" fill="url(#g016)"/>
<circle cx="293.05" cy="232.80" r="13.00" fill="url(#g016)"/>
<circle cx="276.35" cy="249.00" r="13.00" fill="url(#g016)"/>
<circle cx="283.75" cy="249.00" r="13.00" fill="url(#g016)"/>
<circle cx="274.45" cy="265.20" r="13.00" fill="url(#g016)"/>
<circle cx="285.65" cy="265.20" r="13.00" fill="url(#g016)"/>
<circle cx="265.15" cy="281.40" r="13.00" fill="url(#g016)"/>
<circle cx="294.95" cy="281.40" r="13.00" fill="url(#g016)"/>
<circle cx="274.45" cy="232.80" r="13.00" fill="url(#g050)"/>
<circle cx="285.65" cy="232.80" r="13.00" fill="url(#g050)"/>
<circle cx="265.15" cy="249.00" r="13.00" fill="url(#g050)"/>
<circle cx="294.95" cy="249.00" r="13.00" fill="url(#g050)"/>
<circle cx="255.85" cy="265.20" r="13.00" fill="url(#g050)"/>
<circle cx="304.25" cy="265.20" r="13.00" fill="url(#g050)"/>
<circle cx="255.85" cy="232.80" r="13.00" fill="url(#g220)"/>
<circle cx="304.25" cy="232.80" r="13.00" fill="url(#g220)"/>
<circle cx="246.55" cy="249.00" r="13.00" fill="url(#g220)"/>
<circle cx="313.55" cy="249.00" r="13.00" fill="url(#g220)"/>
<circle cx="237.25" cy="232.80" r="13.00" fill="url(#g1000)"/>
<circle cx="322.85" cy="232.80" r="13.00" fill="url(#g1000)"/>
</g>
<clipPath id="cp358"><rect x="358.10" y="212.40" width="149.80" height="105.20"/></clipPath>
<g clip-path="url(#cp358)">
<rect x="358.10" y="212.40" width="149.80" height="105.20" fill="#0000a3"/>
<circle cx="404.60" cy="258.70" r="13.00" fill="url(#g016)"/>
<circle cx="423.20" cy="258.70" r="13.00" fill="url(#g016)"/>
<circle cx="441.80" cy="258.70" r="13.00" fill="url(#g016)"/>
<circle cx="460.40" cy="258.70" r="13.00" fill="url(#g016)"/>
<circle cx="426.90" cy="232.80" r="13.00" fill="url(#g022)"/>
<circle cx="438.10" cy="232.80" r="13.00" fill="url(#g022)"/>
<circle cx="417.60" cy="249.00" r="13.00" fill="url(#g022)"/>
<circle cx="447.40" cy="249.00" r="13.00" fill="url(#g022)"/>
<circle cx="408.30" cy="265.20" r="13.00" fill="url(#g022)"/>
<circle cx="456.70" cy="265.20" r="13.00" fill="url(#g022)"/>
<circle cx="413.90" cy="274.90" r="13.00" fill="url(#g050)"/>
<circle cx="432.50" cy="274.90" r="13.00" fill="url(#g050)"/>
<circle cx="451.10" cy="274.90" r="13.00" fill="url(#g050)"/>
<circle cx="408.30" cy="232.80" r="13.00" fill="url(#g097)"/>
<circle cx="456.70" cy="232.80" r="13.00" fill="url(#g097)"/>
<circle cx="399.00" cy="249.00" r="13.00" fill="url(#g097)"/>
<circle cx="466.00" cy="249.00" r="13.00" fill="url(#g097)"/>
<circle cx="423.20" cy="291.10" r="13.00" fill="url(#g220)"/>
<circle cx="441.80" cy="291.10" r="13.00" fill="url(#g220)"/>
<circle cx="389.70" cy="232.80" r="13.00" fill="url(#g440)"/>
<circle cx="475.30" cy="232.80" r="13.00" fill="url(#g440)"/>
<circle cx="432.50" cy="307.30" r="13.00" fill="url(#g1000)"/>
</g>
</svg>
</body></html>
